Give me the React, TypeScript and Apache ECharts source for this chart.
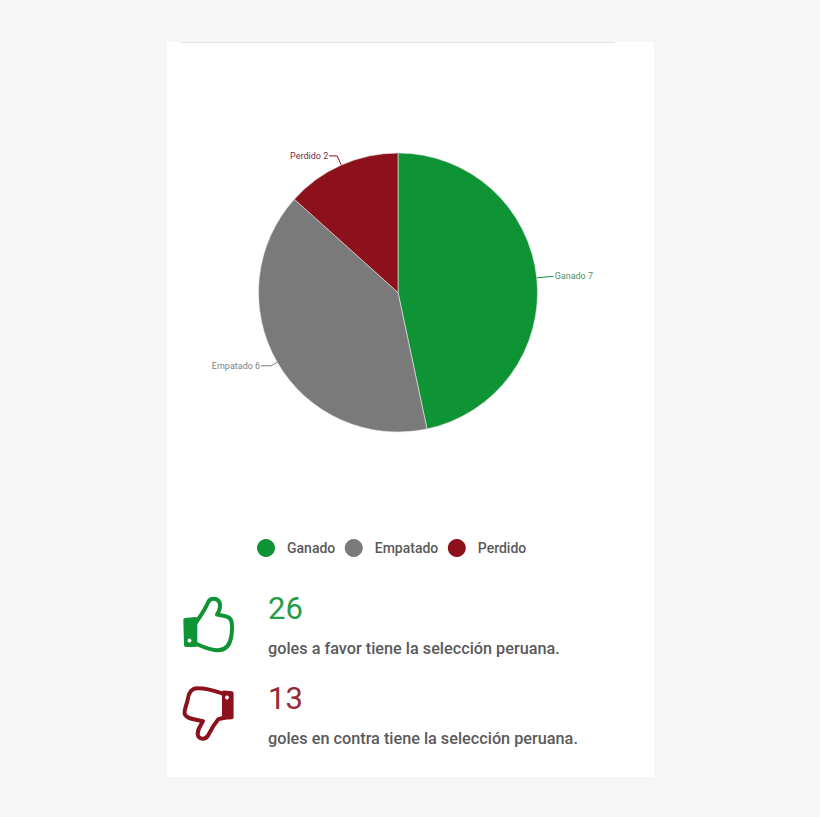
import React, { useEffect, useRef } from "react";
import * as echarts from "echarts";

const categories = ["Ganado", "Empatado", "Perdido"];
const values = [7, 6, 2];
const colors = ["#0E9335", "#7A7A7A", "#8C111C"];
const labelColors = ["#4F8F63", "#7F7F7F", "#7A2A45"];
const goalNumbers = ["26", "13"];
const goalTexts = [
  "goles a favor tiene la selección peruana.",
  "goles en contra tiene la selección peruana.",
];
const labelLines = [
  { length: 15, length2: 2 },
  { length: 7, length2: 10 },
  { length: 10, length2: 8 },
];

const upOutline =
  "M78 128 C90 110 105 90 113 70 C118 55 140 50 149 68 C153 82 147 95 141 104 C155 106 175 108 182 118 C190 132 186 150 184 170 C180 195 170 210 145 211 C120 212 100 200 78 192";
const upCuff = "M46 120 L76 117 L76 195 L48 195 Z";
const downOutline =
  "M162 342 C140 335 115 325 85 325 C65 323 55 340 53 360 C50 375 42 390 44 402 C50 418 75 418 99 424 C90 440 78 455 85 470 C95 482 110 478 117 462 C125 445 135 430 145 418 C152 416 158 415 162 414";
const downCuff = "M162 338 L185 340 L185 412 L162 414 Z";

const UP_SHAPE = "thumbOutlineUp";
const UP_CUFF = "thumbCuffUp";
const DOWN_SHAPE = "thumbOutlineDown";
const DOWN_CUFF = "thumbCuffDown";
echarts.graphic.registerShape(UP_SHAPE, echarts.graphic.extendPath(upOutline, {}) as any);
echarts.graphic.registerShape(UP_CUFF, echarts.graphic.extendPath(upCuff, {}) as any);
echarts.graphic.registerShape(DOWN_SHAPE, echarts.graphic.extendPath(downOutline, {}) as any);
echarts.graphic.registerShape(DOWN_CUFF, echarts.graphic.extendPath(downCuff, {}) as any);

export default function App() {
  const ref = useRef<HTMLDivElement>(null);
  useEffect(() => {
    const chart = echarts.init(ref.current!, undefined, { renderer: "svg" });
    const icon = (type: string, color: string, filled: boolean) => ({
      type,
      x: 170,
      y: 580,
      scaleX: 1 / 3,
      scaleY: 1 / 3,
      style: filled
        ? { fill: color, stroke: color, lineWidth: 12, lineJoin: "round" }
        : { fill: "none", stroke: color, lineWidth: 12, lineCap: "round", lineJoin: "round" },
    });
    chart.setOption({
      animation: false,
      backgroundColor: "#F6F6F6",
      color: colors,
      legend: {
        data: categories,
        left: 257,
        top: 539,
        icon: "circle",
        itemWidth: 18,
        itemHeight: 18,
        itemGap: 9.5,
        padding: 0,
        itemStyle: { borderWidth: 0 },
        textStyle: {
          color: "#5A5A5A",
          fontFamily: "Roboto",
          fontSize: 14,
          fontWeight: 500,
          padding: [0, 0, 0, 7],
        },
      },
      graphic: [
        { type: "rect", z: -10, shape: { x: 167, y: 42, width: 487, height: 735 }, style: { fill: "#FFFFFF" } },
        { type: "rect", z: -9, shape: { x: 181, y: 42, width: 434, height: 1 }, style: { fill: "#E2E2E2" } },
        icon(UP_SHAPE, colors[0], false),
        icon(UP_CUFF, colors[0], true),
        { type: "circle", shape: { cx: 189.5, cy: 640.5, r: 1.9 }, style: { fill: "#FFFFFF" }, z: 10 },
        icon(DOWN_SHAPE, colors[2], false),
        icon(DOWN_CUFF, colors[2], true),
        { type: "circle", shape: { cx: 227, cy: 697.5, r: 1.9 }, style: { fill: "#FFFFFF" }, z: 10 },
        {
          type: "text", x: 268, y: 608,
          style: { text: goalNumbers[0], fill: "#259C48", font: "400 31px Roboto", textVerticalAlign: "middle" },
        },
        {
          type: "text", x: 268, y: 648,
          style: { text: goalTexts[0], fill: "#5A5A5A", font: "500 16.25px Roboto", textVerticalAlign: "middle" },
        },
        {
          type: "text", x: 268, y: 698,
          style: { text: goalNumbers[1], fill: "#972A34", font: "400 31px Roboto", textVerticalAlign: "middle" },
        },
        {
          type: "text", x: 268, y: 738,
          style: { text: goalTexts[1], fill: "#5A5A5A", font: "500 16.25px Roboto", textVerticalAlign: "middle" },
        },
      ],
      series: [
        {
          type: "pie",
          center: [398, 292.5],
          radius: [0, 139.5],
          startAngle: 90,
          clockwise: true,
          avoidLabelOverlap: false,
          itemStyle: { borderColor: "#E8E8E8", borderWidth: 0.6 },
          label: {
            show: true,
            formatter: "{b} {c}",
            fontFamily: "Roboto",
            fontSize: 9,
            distanceToLabelLine: 1,
          },
          labelLine: { show: true, lineStyle: { width: 1 } },
          data: categories.map((name, i) => ({
            name,
            value: values[i],
            labelLine: labelLines[i],
            label: { color: labelColors[i] },
          })),
        },
      ],
    });
    return () => chart.dispose();
  }, []);
  return <div ref={ref} style={{ position: "fixed", left: 0, top: 0, width: 820, height: 817 }} />;
}
